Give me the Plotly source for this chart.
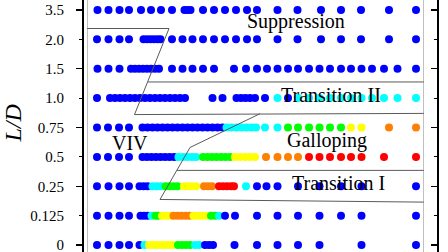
import plotly.graph_objects as go

W, H = 448, 252

# ---- data ---------------------------------------------------------------
# L/D categories (bottom to top) and tick labels
ld_labels = ["0", "0.125", "0.25", "0.5", "0.75", "1.0", "1.5", "2.0", "3.5"]

# response level colour scale (0 = small ... 5 = large)
level_colors = ["#0000FF", "#00FFFF", "#00FF00", "#FFFF00", "#FF7F00", "#FF0000"]

# reduced-velocity positions of the test points for each L/D and their response level
x_ld_0 = [1.0, 2.15, 3.25, 4.2, 5.25, 5.75, 6.2, 6.6, 7.0, 7.4, 7.8, 8.2, 8.6, 9.1, 9.5,
          9.9, 10.3, 10.8, 11.2, 11.8, 12.2, 12.6, 14.75, 17.0, 19.05, 21.1, 23.25, 27.45, 32.9]
lv_ld_0 = [0, 0, 0, 0, 0, 1, 3, 3, 3, 3, 3, 3, 3, 2, 2,
           2, 2, 1, 1, 0, 0, 0, 0, 0, 0, 0, 0, 0, 0]

x_ld_0125 = [1.0, 2.15, 3.25, 4.2, 5.35, 5.7, 6.05, 6.45, 6.85, 7.15, 7.5, 7.9, 8.3, 8.65, 9.05,
             9.45, 9.85, 10.25, 10.65, 11.05, 11.45, 11.85, 12.4, 12.8, 13.2, 13.8, 14.8, 17.0,
             19.05, 21.1, 23.25, 25.4, 27.45, 32.9]
lv_ld_0125 = [0, 0, 0, 0, 0, 0, 0, 1, 2, 2, 3, 3, 3, 4, 4,
              4, 4, 4, 3, 3, 3, 3, 2, 2, 1, 0, 0, 0,
              0, 0, 0, 0, 0, 0]

x_ld_025 = [1.0, 2.15, 3.25, 4.2, 5.25, 5.65, 6.05, 6.55, 6.95, 7.35, 7.85, 8.25, 8.65, 9.05,
            9.7, 10.1, 10.5, 10.9, 11.7, 12.1, 12.5, 13.2, 13.6, 14.0, 14.4, 14.7, 15.9, 17.0,
            17.95, 19.05, 21.1, 23.25, 25.4, 27.45, 32.9]
lv_ld_025 = [0, 0, 0, 0, 0, 0, 0, 1, 1, 1, 2, 2, 2, 2,
             3, 3, 3, 3, 4, 4, 4, 5, 5, 5, 5, 5, 1, 0,
             0, 0, 0, 0, 0, 0, 0]

x_ld_05 = [1.0, 2.1, 3.2, 4.2, 5.55, 6.0, 6.45, 6.9, 7.35, 7.8, 8.25, 8.7, 9.15, 9.6, 10.05,
           10.5, 10.9, 11.6, 12.05, 12.5, 12.95, 13.4, 13.85, 14.3, 14.8, 15.3, 15.8, 16.3,
           16.8, 17.9, 19.05, 20.1, 21.1, 22.2, 23.25, 24.3, 25.4, 26.4, 27.45, 29.7, 32.9]
lv_ld_05 = [0, 0, 0, 0, 0, 0, 0, 0, 0, 0, 0, 0, 1, 1, 1,
            1, 1, 2, 2, 2, 2, 2, 2, 2, 3, 3, 3, 3,
            3, 4, 4, 4, 4, 5, 5, 5, 5, 5, 5, 5, 5]

x_ld_075 = [1.0, 2.1, 3.2, 4.2, 5.55, 6.05, 6.55, 7.05, 7.55, 8.05, 8.55, 9.05, 9.55, 10.05,
            10.55, 11.05, 11.55, 12.05, 12.55, 13.05, 13.55, 13.95, 14.45, 14.95, 15.45, 15.95,
            16.45, 16.9, 17.8, 19.05, 20.1, 21.1, 22.2, 23.25, 24.3, 25.4, 26.4, 27.45, 30.2, 32.9]
lv_ld_075 = [0, 0, 0, 0, 0, 0, 0, 0, 0, 0, 0, 0, 0, 0,
             0, 0, 0, 0, 0, 0, 0, 1, 1, 1, 1, 1,
             1, 1, 1, 1, 2, 2, 2, 2, 2, 2, 3, 3, 4, 4]

x_ld_10 = [1.0, 2.3, 2.8, 3.3, 3.8, 4.3, 4.8, 5.3, 5.8, 6.3, 6.8, 7.3, 7.8, 8.3, 8.8, 9.3,
           9.8, 12.55, 13.55, 14.95, 15.4, 15.85, 16.3, 16.8, 17.8, 19.05, 20.1, 21.1, 22.2,
           23.25, 24.3, 25.4, 26.4, 27.45, 28.5, 29.7, 31.05, 32.9]
lv_ld_10 = [0, 0, 0, 0, 0, 0, 0, 0, 0, 0, 0, 0, 0, 0, 0, 0,
            0, 0, 0, 0, 0, 0, 0, 0, 0, 1, 0, 1, 1,
            1, 1, 1, 1, 1, 1, 1, 1, 1]

x_ld_15 = [1.05, 2.15, 3.25, 4.4, 4.8, 5.2, 5.6, 6.0, 6.4, 6.8, 7.2, 8.5, 9.55, 10.55, 11.6,
           12.7, 14.7, 15.9, 17.0, 18.0, 19.05, 20.1, 21.1, 22.2, 23.25, 24.3, 25.4, 26.4,
           27.45, 28.5, 29.7, 31.05, 32.9]
lv_ld_15 = [0, 0, 0, 0, 0, 0, 0, 0, 0, 0, 0, 0, 0, 0, 0,
            0, 0, 0, 0, 0, 0, 0, 0, 0, 0, 0, 0, 0,
            0, 0, 0, 0, 0]

x_ld_20 = [1.0, 2.15, 3.25, 4.2, 5.65, 6.0, 6.35, 6.7, 7.05, 7.35, 8.5, 9.55, 10.55, 11.6,
           12.7, 13.8, 14.9, 16.0, 17.0, 19.05, 21.05, 23.4, 25.4, 27.4, 30.2, 32.9]
lv_ld_20 = [0, 0, 0, 0, 0, 0, 0, 0, 0, 0, 0, 0, 0, 0,
            0, 0, 0, 0, 0, 0, 0, 0, 0, 0, 0, 0]

x_ld_35 = [1.05, 2.15, 3.25, 4.2, 5.4, 6.4, 7.4, 8.5, 9.75, 10.05, 10.35, 11.6, 12.7, 13.8,
           14.9, 16.0, 17.0, 19.05, 21.05, 23.4, 25.4, 27.4, 30.2, 32.9]
lv_ld_35 = [0, 0, 0, 0, 0, 0, 0, 0, 0, 0, 0, 0, 0, 0,
            0, 0, 0, 0, 0, 0, 0, 0, 0, 0]

# regime boundaries (x in reduced velocity, y in L/D row index)
bnd_upper_x = [0.0, 8.2, 4.75, 33.7]
bnd_upper_y = [7.37, 7.37, 4.44, 4.48]
bnd_trans2_x = [6.1, 33.7]
bnd_trans2_y = [5.55, 5.55]
bnd_lower_x = [17.3, 10.3, 7.3, 33.7]
bnd_lower_y = [4.47, 3.32, 1.55, 1.46]
bnd_trans1_x = [9.0, 33.7]
bnd_trans1_y = [2.54, 2.54]

X_RANGE = [0.0, 33.7]
Y_RANGE = [-0.238, 8.34]

rows = [(x_ld_0, lv_ld_0), (x_ld_0125, lv_ld_0125), (x_ld_025, lv_ld_025),
        (x_ld_05, lv_ld_05), (x_ld_075, lv_ld_075), (x_ld_10, lv_ld_10),
        (x_ld_15, lv_ld_15), (x_ld_20, lv_ld_20), (x_ld_35, lv_ld_35)]

# ---- figure -------------------------------------------------------------
fig = go.Figure()

for i, (xs, lv) in enumerate(rows):
    fig.add_trace(go.Scatter(
        x=xs, y=[i] * len(xs), mode="markers",
        marker=dict(size=8, color=[level_colors[k] for k in lv], line=dict(width=0)),
        showlegend=False, hoverinfo="skip", name=ld_labels[i]))

for bx, by in [(bnd_upper_x, bnd_upper_y), (bnd_trans2_x, bnd_trans2_y),
               (bnd_lower_x, bnd_lower_y), (bnd_trans1_x, bnd_trans1_y)]:
    fig.add_trace(go.Scatter(x=bx, y=by, mode="lines",
                             line=dict(color="#5a5a5a", width=1),
                             showlegend=False, hoverinfo="skip"))

for ax in ["y2", "y3", "y4"]:
    fig.add_trace(go.Scatter(x=[None], y=[None], yaxis=ax, mode="markers",
                             showlegend=False, hoverinfo="skip"))

serif = "Liberation Serif"
tickfont = dict(family=serif, size=15, color="black")
left_pos = 82 / W
right_pos = 437 / W

even = [0, 2, 4, 6, 8]
odd = [1, 3, 5, 7]

fig.update_layout(
    width=W, height=H, autosize=False,
    margin=dict(l=0, r=0, t=0, b=0, pad=0),
    paper_bgcolor="white", plot_bgcolor="white",
    xaxis=dict(domain=[87 / W, 424 / W], range=X_RANGE, visible=False, fixedrange=True),
    yaxis=dict(range=Y_RANGE, anchor="free", position=left_pos, side="left",
               showline=True, linecolor="black", linewidth=1.5,
               ticks="outside", ticklen=6, tickwidth=1.2, tickcolor="black",
               tickmode="array", tickvals=even, ticktext=[ld_labels[i] for i in even],
               tickfont=tickfont, ticklabelstandoff=9, ticklabeloverflow="allow",
               showgrid=False, zeroline=False),
    yaxis3=dict(range=Y_RANGE, overlaying="y", anchor="free", position=left_pos, side="left",
                showline=False, ticks="outside", ticklen=3, tickwidth=1.2, tickcolor="black",
                tickmode="array", tickvals=odd, ticktext=[ld_labels[i] for i in odd],
                tickfont=tickfont, ticklabelstandoff=12, ticklabeloverflow="allow",
                showgrid=False, zeroline=False),
    yaxis2=dict(range=Y_RANGE, overlaying="y", anchor="free", position=right_pos, side="right",
                showline=True, linecolor="black", linewidth=1.5,
                ticks="inside", ticklen=6, tickwidth=1.2, tickcolor="black",
                tickmode="array", tickvals=even, showticklabels=False,
                showgrid=False, zeroline=False),
    yaxis4=dict(range=Y_RANGE, overlaying="y", anchor="free", position=right_pos, side="right",
                showline=False, ticks="inside", ticklen=3, tickwidth=1.2, tickcolor="black",
                tickmode="array", tickvals=odd, showticklabels=False,
                showgrid=False, zeroline=False),
)

# plot frame (left / right borders)
for xv in X_RANGE:
    fig.add_shape(type="line", xref="x", yref="paper", x0=xv, x1=xv, y0=0, y1=1,
                  line=dict(color="#808080", width=1))

def px_ann(text, cx, cy, size=20, **kw):
    fig.add_annotation(text=text, xref="paper", yref="paper", x=cx / W, y=1 - cy / H,
                       xanchor="center", yanchor="middle", showarrow=False,
                       font=dict(family=serif, size=size, color="black"), **kw)

px_ann("Suppression", 296, 21.5)
px_ann("VIV", 130, 143)
px_ann("Galloping", 327, 140.5)
px_ann("Transition II", 331, 95)
px_ann("Transition I", 338.5, 183)
px_ann("<i>L/D</i>", 12.5, 124, size=24, textangle=-90)

fig.write_html("out.html",
               config={"displayModeBar": False, "staticPlot": True},
               post_script="document.body.style.margin='0';document.body.style.overflow='hidden';")
